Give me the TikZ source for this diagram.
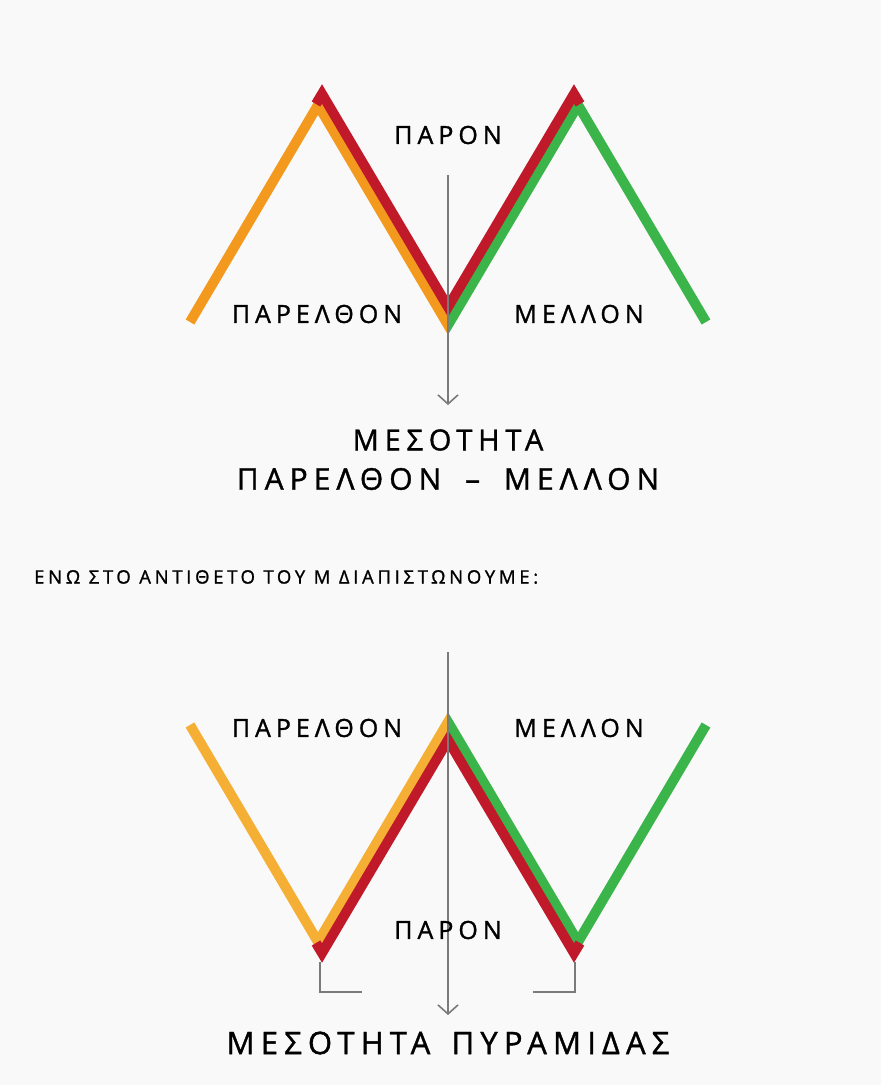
\documentclass[tikz,border=0pt]{standalone}
\usepackage{fontspec}
\newfontfamily\gkfont[LetterSpace=20,FakeBold=1.2]{Open Sans}
\usetikzlibrary{arrows.meta}

\definecolor{paper}{HTML}{F9F9F9}
\definecolor{pastorange}{HTML}{F39A1E}
\definecolor{pastlight}{HTML}{F6AF35}
\definecolor{nowred}{HTML}{C01A2A}
\definecolor{futgreen}{HTML}{3BB44A}
\definecolor{axisgray}{HTML}{7A7A7A}

\begin{document}
\begin{tikzpicture}[x=1pt,y=-1pt,font=\gkfont]
    \tikzset{
        band/.style={line width=10pt, line join=miter, miter limit=10},
        timeaxis/.style={
            draw=axisgray, line width=1.6pt,
            -{Straight Barb[length=9pt,width=20pt]}
        },
        bracket/.style={draw=axisgray, line width=2.2pt},
        word/.style={font=\gkfont\fontsize{25}{30}\selectfont, inner sep=0pt},
        heading/.style={font=\gkfont\fontsize{29}{34}\selectfont, inner sep=0pt},
        remark/.style={font=\gkfont\fontsize{18.5}{22}\selectfont, inner sep=0pt}
    }

    \fill[paper] (0,0) rectangle (881,1085);

    % upper figure: M
    \coordinate (o1) at (190,322);
    \coordinate (o2) at (318,105);
    \coordinate (v1) at (448,325);
    \coordinate (g2) at (578,105);
    \coordinate (g3) at (706,322);
    \coordinate (r1) at (322,94);
    \coordinate (rv) at (448,307);
    \coordinate (r2) at (574,94);

    \begin{scope}
        \clip (0,0) rectangle (448,1085);
        \draw[band, draw=pastorange] (o1) -- (o2) -- (v1) -- ([shift={(30,-51)}] v1);
    \end{scope}
    \begin{scope}
        \clip (448,0) rectangle (881,1085);
        \draw[band, draw=futgreen] ([shift={(-30,-51)}] v1) -- (v1) -- (g2) -- (g3);
    \end{scope}
    \draw[band, draw=nowred] ([shift={(-6,10)}] r1) -- (r1) -- (rv) -- (r2) -- ([shift={(6,10)}] r2);

    \coordinate (ax1) at (448,175);
    \coordinate (ax2) at (448,405);
    \draw[timeaxis] (ax1) -- (ax2);

    \node[word] (now1) at (448,135) {ΠΑΡΟΝ};
    \node[word] (past1) at (317,314) {ΠΑΡΕΛΘΟΝ};
    \node[word] (fut1) at (579,314) {ΜΕΛΛΟΝ};
    \node[heading] (mid1) at (448,440) {ΜΕΣΟΤΗΤΑ};
    \node[heading, font=\gkfont\fontsize{30}{35}\selectfont] (mid2) at (448,479) {ΠΑΡΕΛΘΟΝ\hspace{10pt} – \hspace{10pt}ΜΕΛΛΟΝ};

    \node[remark, anchor=west] (note) at (34,577) {ΕΝΩ ΣΤΟ ΑΝΤΙΘΕΤΟ ΤΟΥ Μ ΔΙΑΠΙΣΤΩΝΟΥΜΕ:};

    % lower figure: upside-down M
    \coordinate (p1) at (190,725);
    \coordinate (p2) at (318,942);
    \coordinate (w1) at (448,722);
    \coordinate (f2) at (578,942);
    \coordinate (f3) at (706,725);
    \coordinate (n1) at (322,953);
    \coordinate (nv) at (448,740);
    \coordinate (n2) at (574,953);

    \begin{scope}
        \clip (0,0) rectangle (448,1085);
        \draw[band, draw=pastlight] (p1) -- (p2) -- (w1) -- ([shift={(30,51)}] w1);
    \end{scope}
    \begin{scope}
        \clip (448,0) rectangle (881,1085);
        \draw[band, draw=futgreen] ([shift={(-30,51)}] w1) -- (w1) -- (f2) -- (f3);
    \end{scope}
    \draw[band, draw=nowred] ([shift={(-6,-10)}] n1) -- (n1) -- (nv) -- (n2) -- ([shift={(6,-10)}] n2);

    \coordinate (ax3) at (448,652);
    \coordinate (ax4) at (448,1015);
    \draw[timeaxis] (ax3) -- (ax4);

    \coordinate (bl1) at (320,962);
    \coordinate (bl2) at (320,992);
    \coordinate (bl3) at (362,992);
    \coordinate (br1) at (575,962);
    \coordinate (br2) at (575,992);
    \coordinate (br3) at (533,992);
    \draw[bracket] (bl1) -- (bl2) -- (bl3);
    \draw[bracket] (br1) -- (br2) -- (br3);

    \node[word] (past2) at (317,728) {ΠΑΡΕΛΘΟΝ};
    \node[word] (fut2) at (579,728) {ΜΕΛΛΟΝ};
    \node[word] (now2) at (448,930) {ΠΑΡΟΝ};
    \node[heading, font=\gkfont\fontsize{31}{36}\selectfont] (mid3) at (448,1043) {ΜΕΣΟΤΗΤΑ\hspace{7pt} ΠΥΡΑΜΙΔΑΣ};
\end{tikzpicture}
\end{document}
